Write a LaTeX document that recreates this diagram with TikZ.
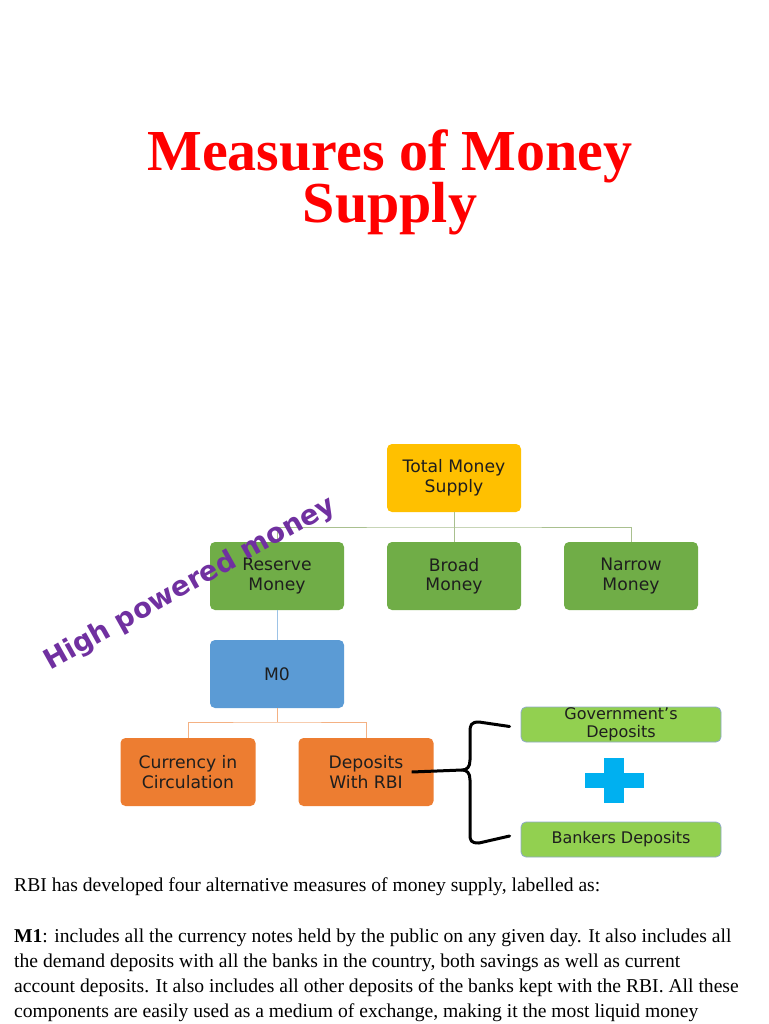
\documentclass[tikz,border=0pt]{standalone}
\usepackage{fontspec}
\setmainfont{Liberation Serif}
\newfontfamily\boxfont{DejaVu Sans}
\newfontfamily\hpfont{DejaVu Sans}
\usetikzlibrary{positioning}
\definecolor{cgold}{HTML}{FFC000}
\definecolor{cgreen}{HTML}{70AD47}
\definecolor{cblue}{HTML}{5B9BD5}
\definecolor{corange}{HTML}{ED7D31}
\definecolor{clgreen}{HTML}{92D050}
\definecolor{ccyan}{HTML}{00B0F0}
\definecolor{cpurple}{HTML}{7030A0}
\definecolor{ctxt}{HTML}{1E1E1E}
\definecolor{lgreen}{HTML}{A9C08F}
\definecolor{lblue}{HTML}{9DC3E6}
\definecolor{lorange}{HTML}{F4B183}
\definecolor{cborder}{HTML}{8FAAC8}
\tikzset{
  box/.style={rounded corners=5pt, minimum width=134pt, minimum height=68pt, inner sep=0pt,
    align=center, text=ctxt, font=\boxfont\fontsize{17.2}{19.5}\selectfont},
  smallbox/.style={box, minimum width=200pt, minimum height=35pt, fill=clgreen, draw=cborder, line width=0.8pt,
    font=\boxfont\fontsize{16}{18}\selectfont},
  body/.style={anchor=base west, inner sep=0pt, font=\fontsize{19.6}{22}\selectfont},
  conn/.style={line width=1pt},
}
\begin{document}
\begin{tikzpicture}[x=1pt,y=-1pt]
\useasboundingbox (0,0) rectangle (768,1024);
\fill[white] (0,0) rectangle (768,1024);
% title
\node[text=red, font=\bfseries\fontsize{58}{62}\selectfont, align=center] (title1) at (390,156) {Measures of Money};
\node[text=red, font=\bfseries\fontsize{58}{62}\selectfont, align=center] (title2) at (390,209) {Supply};
% boxes
\node[box, fill=cgold] (total) at (454,478) {Total Money\\Supply};
\node[box, fill=cgreen] (reserve) at (277,576) {Reserve\\Money};
\node[box, fill=cgreen] (broad) at (454,576) {Broad\\Money};
\node[box, fill=cgreen] (narrow) at (631,576) {Narrow\\Money};
\node[box, fill=cblue] (m0) at (277,674) {M0};
\node[box, fill=corange, minimum width=135pt] (curr) at (188,772) {Currency in\\Circulation};
\node[box, fill=corange, minimum width=135pt] (dep) at (366,772) {Deposits\\With RBI};
\node[smallbox] (gov) at (621,724.5) {Government’s\\Deposits};
\node[smallbox] (bank) at (621,839.5) {Bankers Deposits};
% connectors
\coordinate (tj) at (454,527);
\draw[lgreen, conn] (total.south) -- (tj);
\draw[lgreen, conn] (reserve.north) |- (tj) -| (narrow.north);
\draw[lgreen, conn] (tj) -- (broad.north);
\draw[lblue, conn] (reserve.south) -- (m0.north);
\coordinate (mj) at (277,722);
\draw[lorange, conn] (m0.south) -- (mj);
\draw[lorange, conn] (curr.north) |- (mj) -| (dep.north);
% brace
\coordinate (btip) at (462,770);
\draw[black, line width=3pt] ([xshift=-22pt]dep.east) -- (btip);
\draw[black, line width=3pt, line cap=round, line join=round]
  ([xshift=-11pt,yshift=-2pt]gov.west) -- (479,722) .. controls (471,722) and (470,725) .. (470,732)
  -- (470,760) .. controls (470,767) and (467,770) .. (btip)
  .. controls (467,770) and (470,773) .. (470,780)
  -- (470,834) .. controls (470,841) and (471,843) .. (479,843) -- ([xshift=-11pt,yshift=3.5pt]bank.west);
% plus sign
\node[fill=ccyan, minimum width=59pt, minimum height=15pt, inner sep=0pt] (plush) at (614,780.5) {};
\node[fill=ccyan, minimum width=20pt, minimum height=45pt, inner sep=0pt] (plusv) at (614,780.5) {};
% high powered money
\node[text=cpurple, font=\hpfont\bfseries\fontsize{27.5}{30}\selectfont, rotate=29.2, inner sep=0pt] (hp) at (190,584) {High powered money};
% body text
\node[body] (l1) at (14,891) {RBI has developed four alternative measures of money supply, labelled as:};
\node[body] (l2) at (14,942) {\textbf{M1}: includes all the currency notes held by the public on any given day. It also includes all};
\node[body] (l3) at (14,967) {the demand deposits with all the banks in the country, both savings as well as current};
\node[body] (l4) at (14,992) {account deposits. It also includes all other deposits of the banks kept with the RBI. All these};
\node[body] (l5) at (14,1017) {components are easily used as a medium of exchange, making it the most liquid money};
\end{tikzpicture}
\end{document}
